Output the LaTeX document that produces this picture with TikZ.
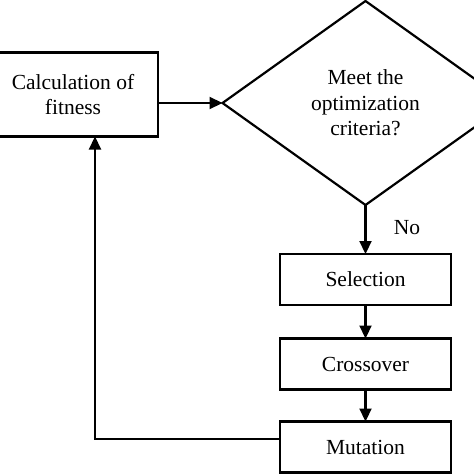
\documentclass[tikz,border=0pt]{standalone}
\usepackage{fontspec}
\setmainfont{Liberation Serif}
\usetikzlibrary{shapes.geometric,arrows.meta}
\begin{document}
\begin{tikzpicture}[x=1pt,y=-1pt,
  line width=2.2pt,
  font=\fontsize{21.5}{25.5}\selectfont,
  box/.style={draw,rectangle,inner sep=0pt,outer sep=0pt,align=center},
  dec/.style={draw,diamond,inner sep=0pt,outer sep=0pt,align=center,aspect=1.4,minimum width=286pt,minimum height=204pt},
  arr/.style={-{Triangle[length=13pt,width=12pt]}}]
\useasboundingbox (0,0) rectangle (474,474);
\node[box,minimum width=170pt,minimum height=84pt] (calc) at (73,94.5) {Calculation of\\fitness};
\node[dec] (meet) at (365.5,103) {Meet the\\optimization\\criteria?};
\node[box,minimum width=171pt,minimum height=51pt] (sel) at (365.5,279.5) {Selection};
\node[box,minimum width=171pt,minimum height=51pt] (cro) at (365.5,364) {Crossover};
\node[box,minimum width=171pt,minimum height=51pt] (mut) at (365.5,447) {Mutation};
\node (no) at (407,228) {No};
\coordinate (c1) at (95,439);
\draw[arr] (calc.east |- meet.west) -- (meet.west);
\draw[arr] (meet.south) -- (sel.north);
\draw[arr] (sel.south) -- (cro.north);
\draw[arr] (cro.south) -- (mut.north);
\draw[arr] (mut.west |- c1) -- (c1) -- (c1 |- calc.south);
\end{tikzpicture}
\end{document}
